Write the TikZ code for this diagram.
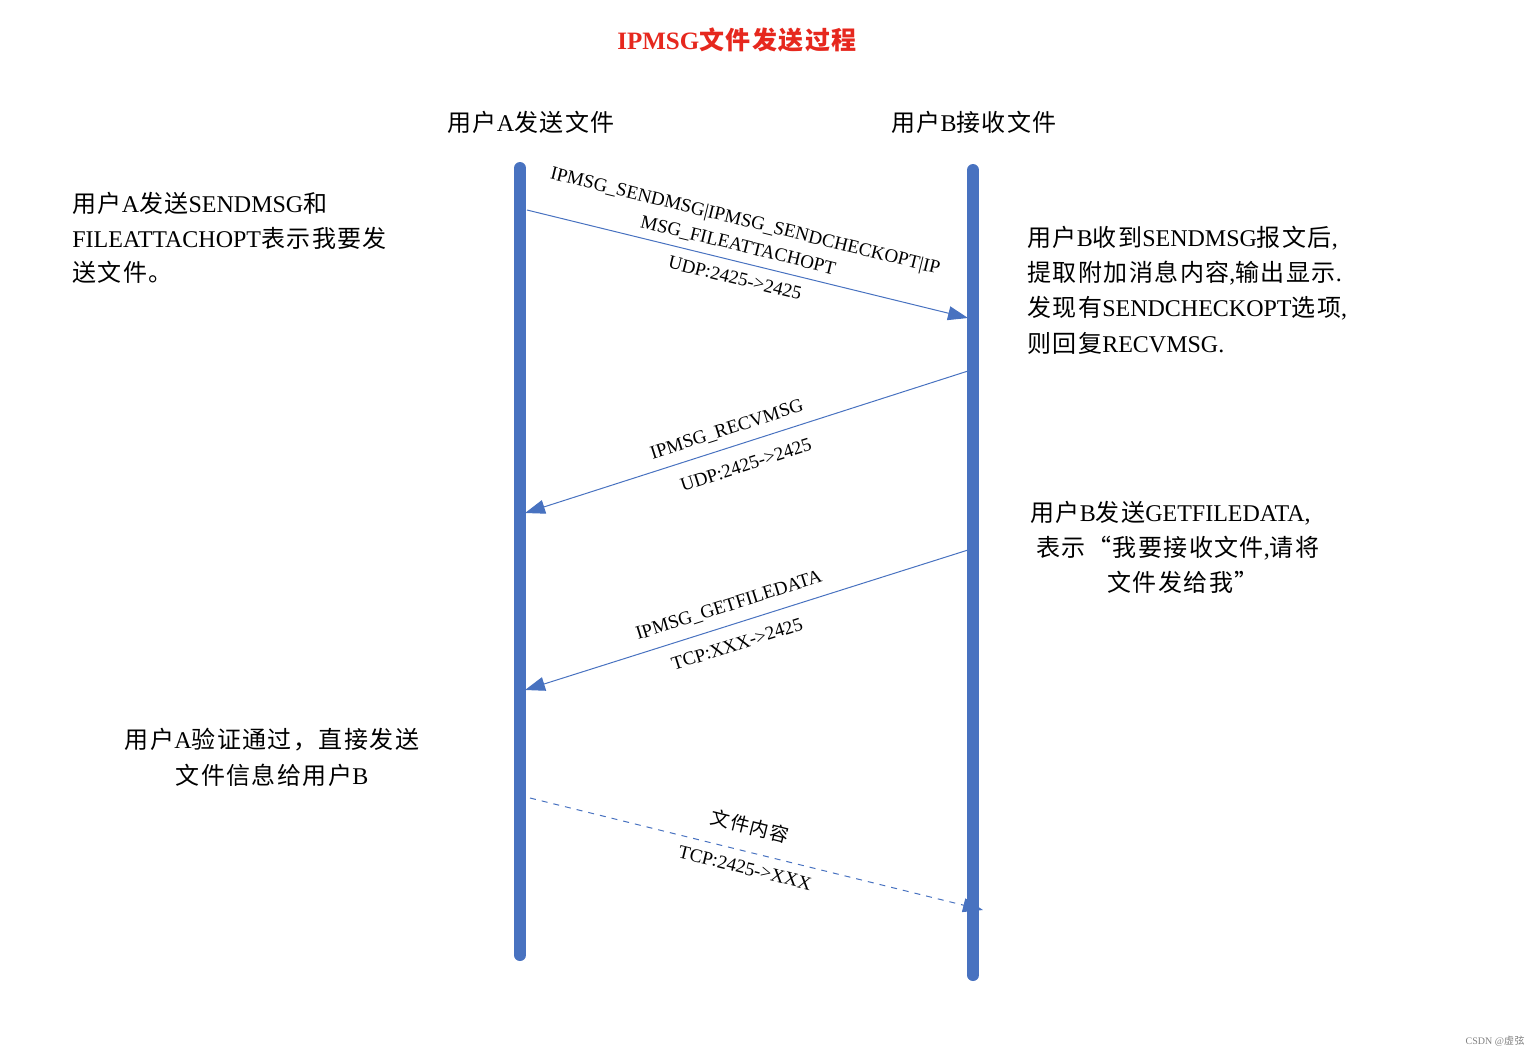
\documentclass[tikz,border=0pt]{standalone}
\usepackage{fontspec}
\setmainfont{Liberation Serif}
\newfontfamily\cjk[LetterSpace=6]{Noto Sans CJK SC}
\newcommand{\C}[1]{{\cjk #1}}
\usetikzlibrary{arrows.meta}
\definecolor{lb}{RGB}{72,114,192}
\definecolor{tr}{RGB}{230,40,30}
\begin{document}
\begin{tikzpicture}[x=0.5pt,y=-0.5pt,
  life/.style={line width=6pt,lb,line cap=round},
  msg/.style={lb,line width=0.5pt,-{Triangle[length=10pt,width=7pt]}},
  txt/.style={font=\fontsize{12}{14}\selectfont,inner sep=0pt},
  lbl/.style={font=\fontsize{9.5}{11}\selectfont,inner sep=0pt}]
\useasboundingbox (0,0) rectangle (1540,1056);
\node[txt,font=\bfseries\fontsize{12.5}{14}\selectfont,text=tr] (title) at (737,40) {IPMSG\C{文件发送过程}};
\node[txt] (ha) at (531,122) {\C{用户}A\C{发送文件}};
\node[txt] (hb) at (974,122) {\C{用户}B\C{接收文件}};
\coordinate (a0) at (520,168); \coordinate (a1) at (520,955);
\coordinate (b0) at (973,170); \coordinate (b1) at (973,975);
\draw[life] (a0) -- (a1);
\draw[life] (b0) -- (b1);
\coordinate (m1s) at (527,210); \coordinate (m1e) at (968,318);
\coordinate (m2s) at (968,371); \coordinate (m2e) at (525,513);
\coordinate (m3s) at (968,550); \coordinate (m3e) at (525,690);
\coordinate (m4s) at (530,798); \coordinate (m4e) at (983,910);
\draw[msg] (m1s) -- (m1e);
\draw[msg] (m2s) -- (m2e);
\draw[msg] (m3s) -- (m3e);
\draw[msg,dashed] (m4s) -- (m4e);
\node[lbl,rotate=-13.8] (l1a) at (745,222) {IPMSG\_SENDMSG|IPMSG\_SENDCHECKOPT|IP};
\node[lbl,rotate=-13.8] (l1b) at (738,246) {MSG\_FILEATTACHOPT};
\node[lbl,rotate=-13.8] (l1c) at (735,278) {UDP:2425->2425};
\node[lbl,rotate=17.8] (l2a) at (727,430) {IPMSG\_RECVMSG};
\node[lbl,rotate=17.8] (l2b) at (746,465) {UDP:2425->2425};
\node[lbl,rotate=17.5] (l3a) at (729,606) {IPMSG\_GETFILEDATA};
\node[lbl,rotate=17.5] (l3b) at (737,644) {TCP:XXX->2425};
\node[lbl,rotate=-13.9] (l4a) at (750,826) {\C{文件内容}};
\node[lbl,rotate=-13.9] (l4b) at (745,868) {TCP:2425->XXX};
\node[txt,anchor=west] (t1) at (72,203) {\C{用户}A\C{发送}SENDMSG\C{和}};
\node[txt,anchor=west] (t2) at (72,238) {FILEATTACHOPT\C{表示我要发}};
\node[txt,anchor=west] (t3) at (72,272) {\C{送文件。}};
\node[txt,anchor=west] (r1) at (1027,238) {\C{用户}B\C{收到}SENDMSG\C{报文后},};
\node[txt,anchor=west] (r2) at (1027,273) {\C{提取附加消息内容},\C{输出显示}.};
\node[txt,anchor=west] (r3) at (1027,308) {\C{发现有}SENDCHECKOPT\C{选项},};
\node[txt,anchor=west] (r4) at (1027,343) {\C{则回复}RECVMSG.};
\node[txt,anchor=west] (s1) at (1030,513) {\C{用户}B\C{发送}GETFILEDATA,};
\node[txt,anchor=west] (s2) at (1036,548) {\C{表示“我要接收文件},\C{请将}};
\node[txt,anchor=west] (s3) at (1107,582) {\C{文件发给我”}};
\node[txt] (u1) at (272,740) {\C{用户}A\C{验证通过，直接发送}};
\node[txt] (u2) at (272,775) {\C{文件信息给用户}B};
\node[inner sep=0pt,font=\fontsize{5}{6}\selectfont,text=gray,anchor=east] (wm) at (1525,1041) {CSDN @\C{虚弦}};
\end{tikzpicture}
\end{document}
